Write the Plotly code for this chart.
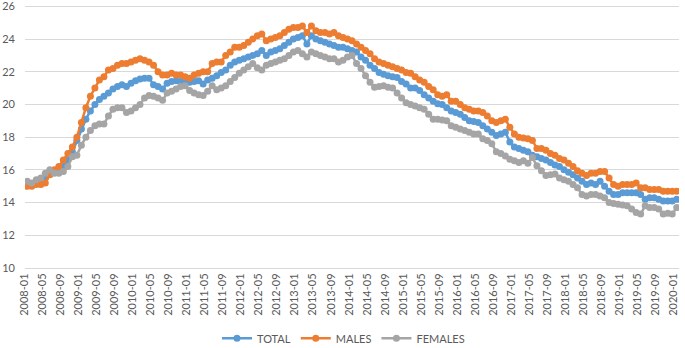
import plotly.graph_objects as go

months = [f"{2008 + i // 12}-{i % 12 + 1:02d}" for i in range(145)]

males = [15.0, 15.0, 15.1, 15.1, 15.2, 15.7, 16.0, 16.2, 16.6, 17.0,
         17.4, 18.0, 18.9, 19.8, 20.5, 21.0, 21.5, 21.7, 22.1, 22.2,
         22.4, 22.5, 22.5, 22.6, 22.7, 22.8, 22.7, 22.6, 22.4, 22.0,
         21.8, 21.8, 21.9, 21.8, 21.8, 21.7, 21.6, 21.8, 21.9, 22.0,
         22.0, 22.5, 22.6, 22.6, 23.0, 23.2, 23.5, 23.5, 23.6, 23.8,
         24.0, 24.2, 24.3, 23.9, 24.0, 24.1, 24.2, 24.4, 24.6, 24.7,
         24.7, 24.8, 24.4, 24.8, 24.5, 24.4, 24.4, 24.3, 24.4, 24.2,
         24.1, 24.0, 23.9, 23.7, 23.5, 23.3, 23.1, 22.8, 22.6, 22.5,
         22.4, 22.3, 22.2, 22.1, 21.95, 21.9, 21.7, 21.5, 21.35, 21.1,
         20.9, 20.6, 20.5, 20.6, 20.2, 20.2, 20.0, 19.8, 19.7, 19.6,
         19.6, 19.5, 19.3, 19.0, 18.9, 19.0, 19.1, 18.6, 18.2, 18.0,
         17.95, 17.9, 17.8, 17.3, 17.3, 17.2, 17.0, 16.9, 16.7, 16.6,
         16.4, 16.2, 15.95, 15.8, 15.65, 15.8, 15.8, 15.9, 15.9, 15.5,
         15.1, 15.0, 15.1, 15.1, 15.1, 15.2, 14.9, 14.9, 14.8, 14.8,
         14.8, 14.7, 14.7, 14.7, 14.7]

total = [15.1, 15.1, 15.3, 15.4, 15.5, 15.8, 15.9, 16.0, 16.2, 16.6,
         17.1, 17.8, 18.5, 19.1, 19.6, 20.0, 20.3, 20.5, 20.7, 20.95,
         21.1, 21.2, 21.1, 21.3, 21.45, 21.55, 21.6, 21.6, 21.2, 21.1,
         20.95, 21.3, 21.4, 21.45, 21.4, 21.3, 21.35, 21.4, 21.45, 21.25,
         21.5, 21.6, 21.75, 21.95, 22.1, 22.4, 22.6, 22.7, 22.8, 22.9,
         23.0, 23.1, 23.3, 23.0, 23.2, 23.3, 23.4, 23.6, 23.8, 24.0,
         24.1, 24.2, 23.7, 24.2, 24.0, 23.9, 23.8, 23.7, 23.6, 23.5,
         23.5, 23.4, 23.3, 23.2, 22.9, 22.7, 22.4, 22.2, 21.95, 21.85,
         21.75, 21.7, 21.65, 21.4, 21.25, 21.0, 21.0, 20.85, 20.6, 20.4,
         20.2, 20.05, 20.0, 19.8, 19.6, 19.5, 19.4, 19.2, 19.0, 18.95,
         18.9, 18.7, 18.5, 18.3, 18.1, 18.2, 18.3, 17.7, 17.4, 17.3,
         17.2, 17.1, 16.9, 16.8, 16.7, 16.6, 16.45, 16.3, 16.2, 16.0,
         15.85, 15.7, 15.5, 15.3, 15.1, 15.2, 15.1, 15.3, 15.0, 14.7,
         14.5, 14.5, 14.6, 14.6, 14.6, 14.6, 14.5, 14.2, 14.3, 14.3,
         14.2, 14.1, 14.1, 14.1, 14.2]

females = [15.3, 15.2, 15.4, 15.5, 15.8, 16.0, 15.8, 15.8, 15.9, 16.2,
           16.8, 16.9, 17.5, 18.0, 18.4, 18.7, 18.8, 18.8, 19.3, 19.7,
           19.8, 19.8, 19.5, 19.6, 19.8, 20.0, 20.4, 20.55, 20.5, 20.4,
           20.25, 20.7, 20.8, 20.95, 21.1, 21.15, 20.85, 20.7, 20.6, 20.55,
           20.8, 21.15, 20.9, 21.0, 21.15, 21.4, 21.65, 21.9, 22.1, 22.3,
           22.5, 22.25, 22.1, 22.4, 22.5, 22.6, 22.7, 22.8, 23.0, 23.2,
           23.3, 23.1, 22.9, 23.2, 23.1, 23.0, 22.9, 22.8, 22.8, 22.6,
           22.7, 22.9, 23.0, 22.5, 22.2, 21.75, 21.35, 21.05, 21.1, 21.15,
           21.05, 21.0, 20.7, 20.4, 20.1, 20.0, 19.9, 19.8, 19.7, 19.4,
           19.1, 19.1, 19.05, 19.0, 18.7, 18.6, 18.5, 18.4, 18.3, 18.2,
           18.2, 17.9, 17.8, 17.6, 17.1, 17.0, 16.85, 16.65, 16.55, 16.45,
           16.55, 16.4, 16.75, 16.25, 15.95, 15.65, 15.7, 15.75, 15.5, 15.4,
           15.3, 15.1, 14.9, 14.5, 14.4, 14.5, 14.5, 14.4, 14.3, 14.0,
           13.95, 13.9, 13.85, 13.8, 13.6, 13.4, 13.3, 13.8, 13.7, 13.7,
           13.6, 13.3, 13.35, 13.3, 13.7]

tick_labels = months[::4]
y_ticks = [10, 12, 14, 16, 18, 20, 22, 24, 26]

series = [("TOTAL", total, "#5B9BD5"),
          ("MALES", males, "#ED7D31"),
          ("FEMALES", females, "#A5A5A5")]

fig = go.Figure()
for name, vals, col in series:
    fig.add_trace(go.Scatter(
        x=months, y=vals, name=name, mode="lines+markers",
        line=dict(color=col, width=2.5),
        marker=dict(color=col, size=7, symbol="circle"),
    ))

fig.update_layout(
    width=685, height=348,
    margin=dict(l=25, r=6, t=5, b=80, autoexpand=False),
    paper_bgcolor="white", plot_bgcolor="white",
    font=dict(family="Lato, Open Sans, sans-serif", color="#595959", size=11),
    showlegend=True,
    legend=dict(orientation="h", x=0.487, xanchor="center", y=-0.267, yanchor="middle",
                font=dict(size=11, color="#595959"), tracegroupgap=0),
    xaxis=dict(type="category", tickmode="array", tickvals=tick_labels,
               ticktext=tick_labels, tickangle=-90, tickfont=dict(size=11),
               showgrid=False, showline=True, linecolor="#d9d9d9",
               ticks="", range=[-0.5, 144.5], automargin=False,
               ticklabelshift=-3, ticklabeloverflow="allow"),
    yaxis=dict(range=[10, 26.08], tickmode="array", tickvals=y_ticks,
               showgrid=True, gridcolor="#d9d9d9",
               gridwidth=1, zeroline=False, ticks="", tickfont=dict(size=11),
               ticklabelstandoff=9, automargin=False, ticklabeloverflow="allow"),
)

fig.write_html("out.html", config={"displayModeBar": False},
               post_script="document.body.style.margin='0';document.body.style.overflow='hidden';")
